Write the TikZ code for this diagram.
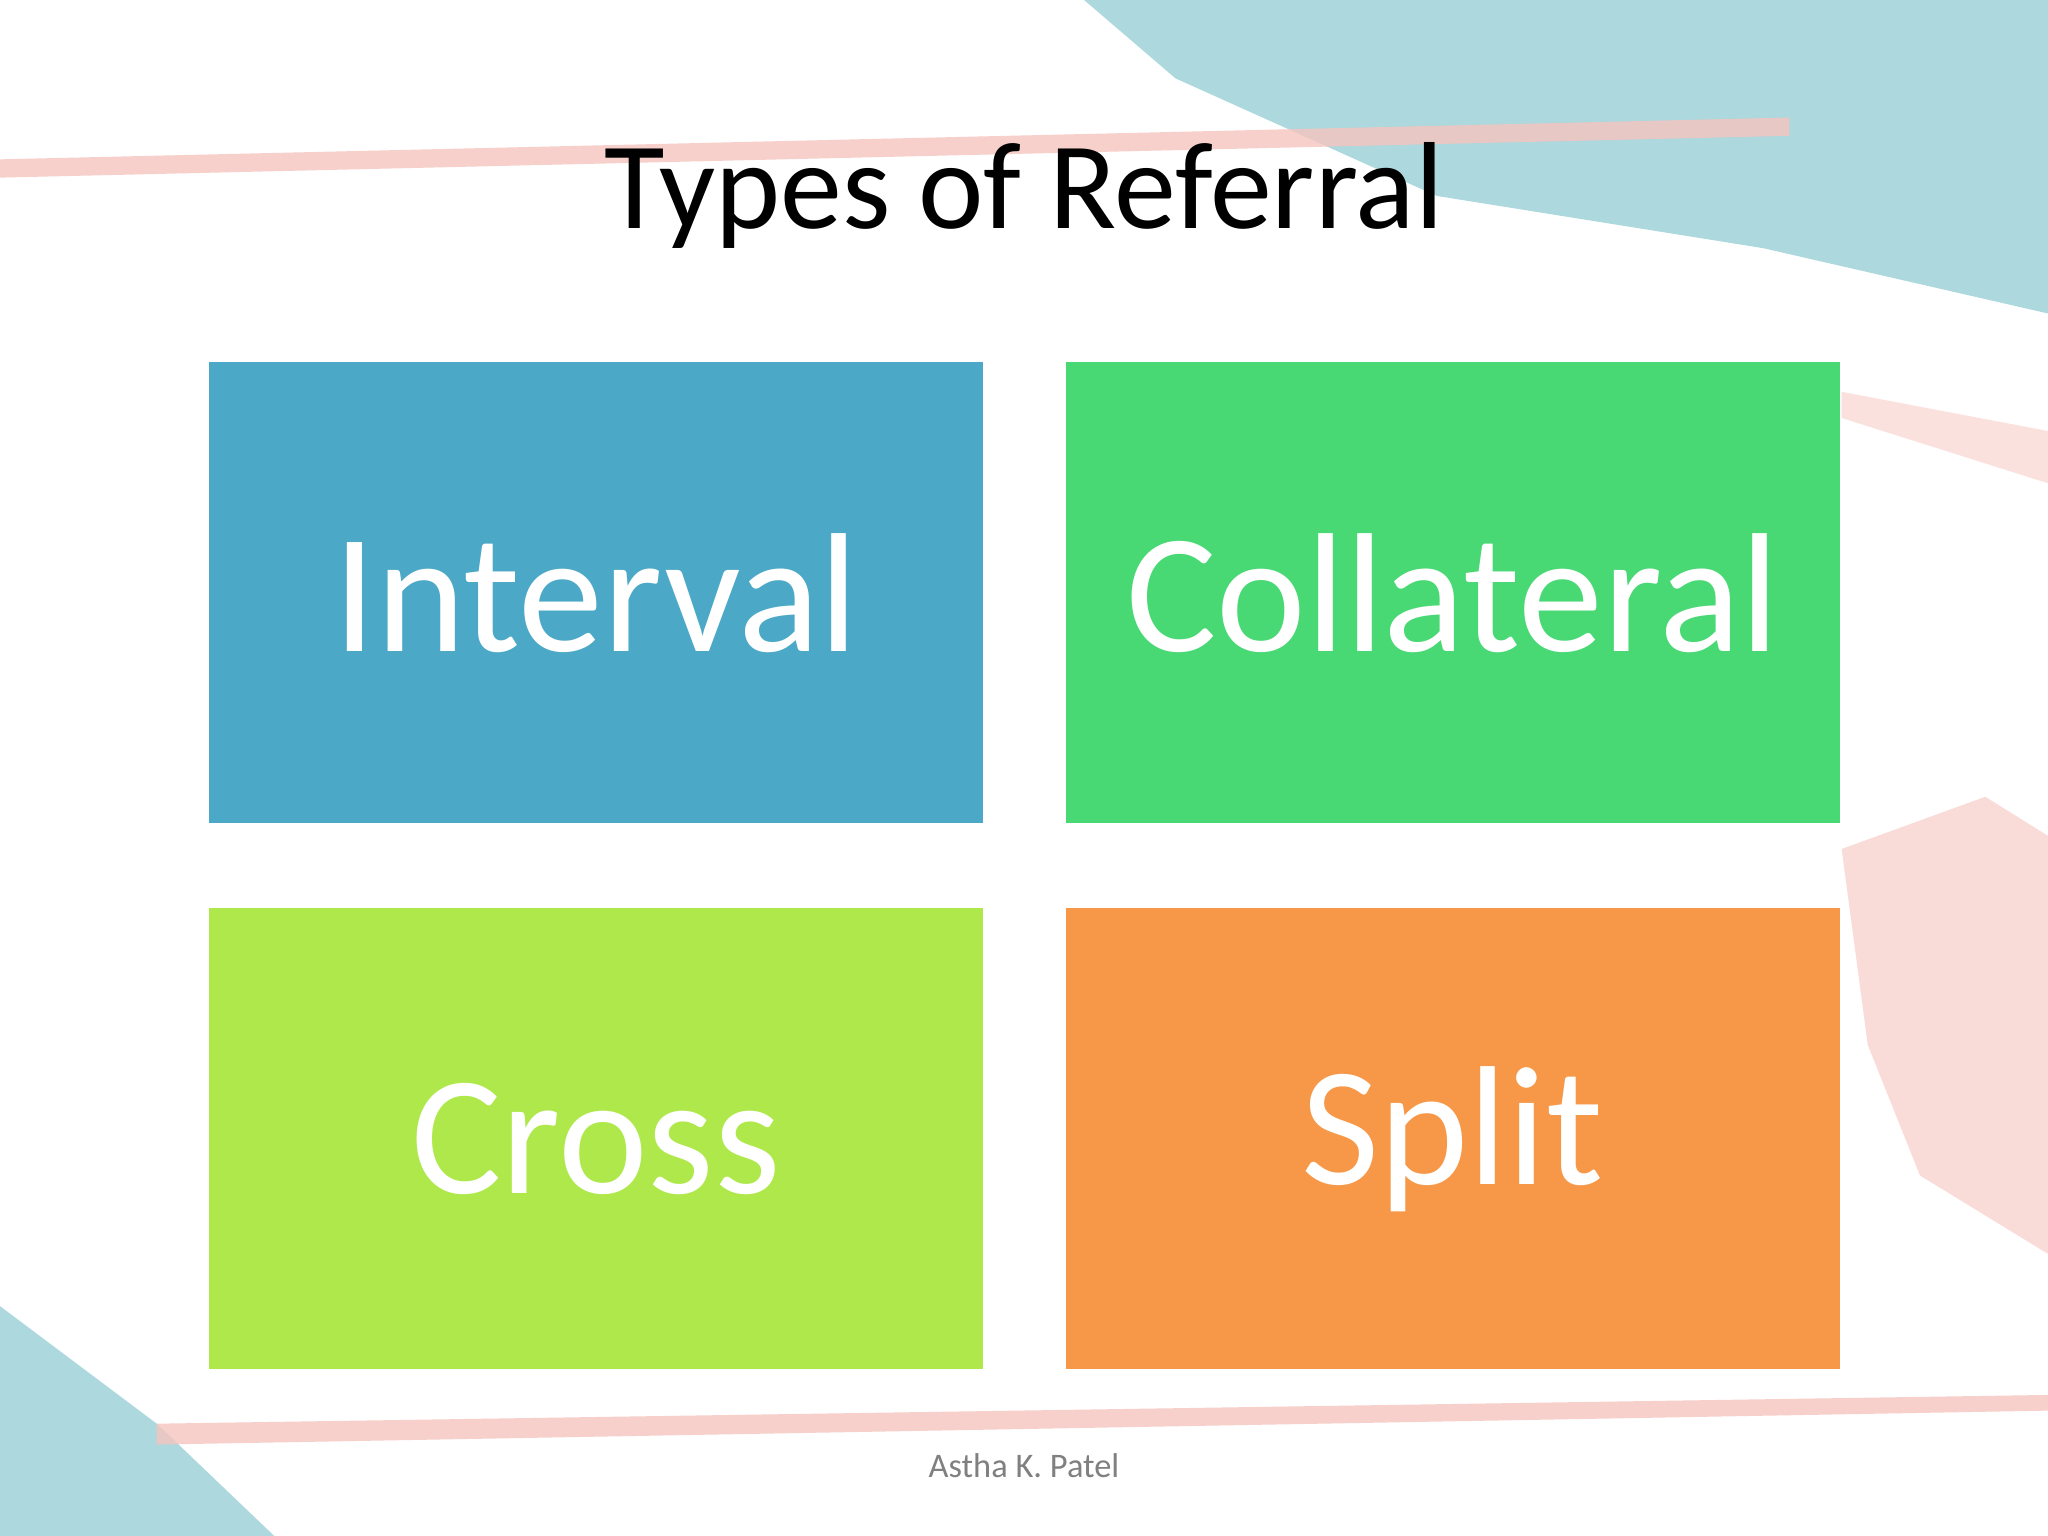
\documentclass[tikz,border=0pt]{standalone}
\usepackage{fontspec}
\setmainfont{Carlito}
\definecolor{bgteal}{RGB}{172,216,222}
\definecolor{bgpink}{RGB}{246,196,190}
\begin{document}
\begin{tikzpicture}[x=0.02cm,y=-0.02cm,
  box/.style={minimum width=592*0.02cm,minimum height=353*0.02cm,inner sep=0,anchor=north west,text=white,font=\fontsize{74}{84}\selectfont}]
\useasboundingbox (0,0) rectangle (1568,1176);
\fill[white] (0,0) rectangle (1568,1176);
% background streaks
\fill[bgteal] (830,0) -- (1568,0) -- (1568,240) -- (1350,190) -- (1100,150) -- (900,60) -- cycle;
\fill[bgteal] (0,1000) -- (120,1090) -- (210,1176) -- (0,1176) -- cycle;
\fill[bgpink,opacity=0.8] (0,122) -- (1370,90) -- (1370,104) -- (0,136) -- cycle;
\fill[bgpink,opacity=0.8] (120,1090) -- (1568,1068) -- (1568,1080) -- (120,1106) -- cycle;
\fill[bgpink,opacity=0.6] (1410,650) -- (1520,610) -- (1568,640) -- (1568,960) -- (1470,900) -- (1430,800) -- cycle;
\fill[bgpink,opacity=0.5] (1410,300) -- (1568,330) -- (1568,370) -- (1410,320) -- cycle;
% boxes
\node[box,fill={rgb,255:red,75;green,168;blue,198}] (interval) at (160,277) {Interval};
\node[box,fill={rgb,255:red,72;green,216;blue,116}] (collateral) at (816,277) {Collateral};
\node[box,fill={rgb,255:red,174;green,232;blue,74}] (cross) at (160,695) {Cross};
\node[box,fill={rgb,255:red,246;green,152;blue,72}] (split) at (816,695) {Split};
\node[font=\fontsize{54}{60}\selectfont] (title) at (784,150) {Types of Referral};
\node[font=\fontsize{15}{18}\selectfont,text=gray] (footer) at (784,1122) {Astha K. Patel};
\end{tikzpicture}
\end{document}
